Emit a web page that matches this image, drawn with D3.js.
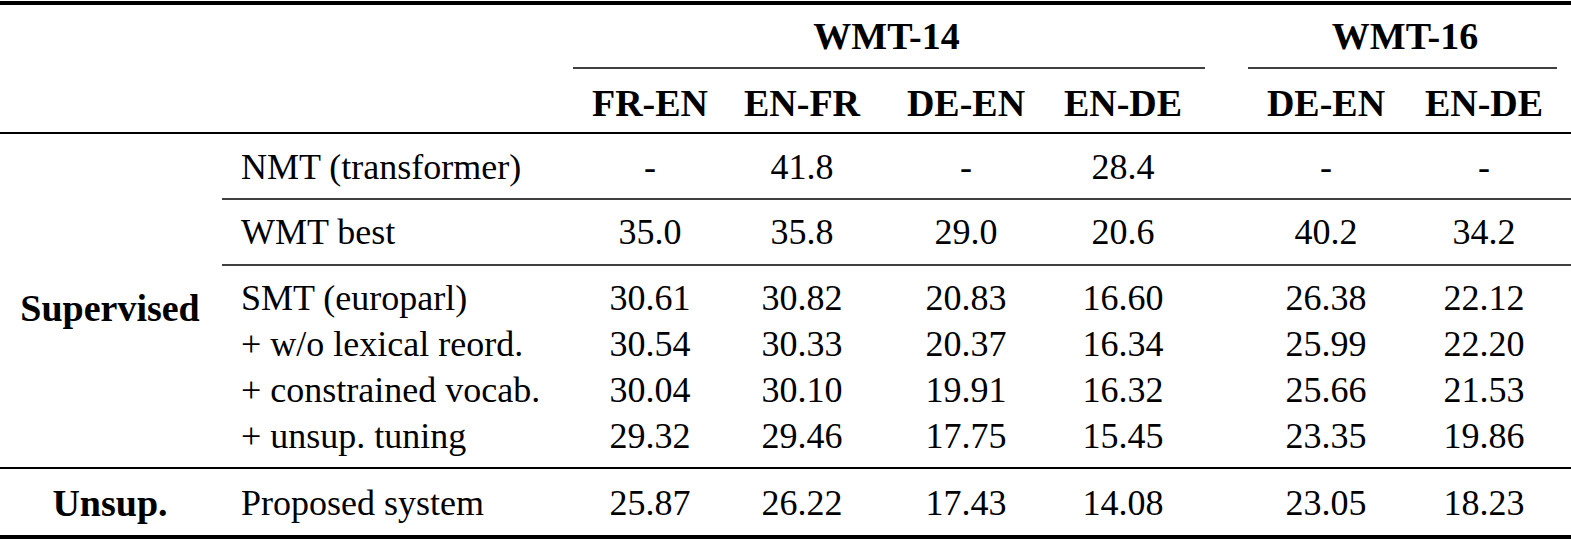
<!DOCTYPE html>
<html><head><meta charset="utf-8">
<script src="https://cdn.jsdelivr.net/npm/d3@7"></script>
<style>body{margin:0;background:#fff}</style>
</head><body>
<svg id="t" width="1571" height="540"></svg>
<script>
// table data
const groups = [{name: 'WMT-14', cols: [0, 3]}, {name: 'WMT-16', cols: [4, 5]}];
const columns = ['FR-EN', 'EN-FR', 'DE-EN', 'EN-DE', 'DE-EN', 'EN-DE'];
const systems = ['NMT (transformer)', 'WMT best', 'SMT (europarl)', '+ w/o lexical reord.',
  '+ constrained vocab.', '+ unsup. tuning', 'Proposed system'];
const scores = [
  ['-', '41.8', '-', '28.4', '-', '-'],
  ['35.0', '35.8', '29.0', '20.6', '40.2', '34.2'],
  ['30.61', '30.82', '20.83', '16.60', '26.38', '22.12'],
  ['30.54', '30.33', '20.37', '16.34', '25.99', '22.20'],
  ['30.04', '30.10', '19.91', '16.32', '25.66', '21.53'],
  ['29.32', '29.46', '17.75', '15.45', '23.35', '19.86'],
  ['25.87', '26.22', '17.43', '14.08', '23.05', '18.23']
];
const rowY = [167, 232, 298, 344, 390, 436, 503];
const colX = [650, 802, 966, 1123, 1326, 1484];

const svg = d3.select('#t');
const font = '"Liberation Serif", "DejaVu Serif", serif';
const txt = (x, y, s, anchor, bold) => svg.append('text')
  .attr('x', x).attr('y', y).attr('text-anchor', anchor)
  .attr('dominant-baseline', 'central')
  .style('font-family', font).style('font-size', bold ? '38px' : '36px')
  .style('font-weight', bold ? 'bold' : 'normal').text(s);
const line = (x1, x2, y, w) => svg.append('line')
  .attr('x1', x1).attr('x2', x2).attr('y1', y).attr('y2', y)
  .attr('stroke', '#000').attr('stroke-width', w);

line(0, 1571, 3, 4);
line(0, 1571, 133, 2);
line(222, 1571, 199, 1.5);
line(222, 1571, 265, 1.5);
line(0, 1571, 468, 2);
line(0, 1571, 537, 4);

const under = [[573, 1205], [1248, 1557]];
groups.forEach((g, i) => {
  txt((colX[g.cols[0]] + colX[g.cols[1]]) / 2, 36, g.name, 'middle', true);
  line(under[i][0], under[i][1], 68, 1.5);
});
columns.forEach((c, i) => txt(colX[i], 103, c, 'middle', true));

txt(110, 308, 'Supervised', 'middle', true);
txt(110, 503, 'Unsup.', 'middle', true);

systems.forEach((s, r) => {
  txt(241, rowY[r], s, 'start', false);
  scores[r].forEach((v, c) => txt(colX[c], rowY[r], v, 'middle', false));
});
</script>
</body></html>
